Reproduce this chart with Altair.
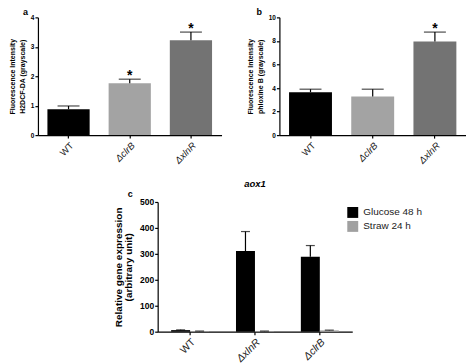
import altair as alt
import pandas as pd

FONT = "Liberation Sans"

# ---- panel a / b data ----
strains_ab = ["WT", "ΔclrB", "ΔxlnR"]
h2dcf_mean = [0.88, 1.76, 3.22]
h2dcf_err = [0.99, 1.90, 3.50]
h2dcf_sig = ["", "*", "*"]
phlox_mean = [3.65, 3.28, 7.95]
phlox_err = [3.90, 3.90, 8.75]
phlox_sig = ["", "", "*"]
bar_colors = ["#000000", "#a3a3a3", "#737373"]

# ---- panel c data ----
strains_c = ["WT", "ΔxlnR", "ΔclrB"]
conditions = ["Glucose 48 h", "Straw 24 h"]
aox1_glucose = [6, 311, 289]
aox1_glucose_err = [7, 386, 332]
aox1_straw = [2, 2, 5]
aox1_straw_err = [2.5, 2.5, 6]
cond_colors = ["#000000", "#a0a0a0"]

italic_cond = alt.condition("datum.value == 'WT'", alt.value("normal"), alt.value("italic"))


def x_axis(fs):
    return alt.Axis(title=None, labelAngle=-45, labelFont=FONT, labelFontSize=fs,
                    labelColor="#222222", labelFontWeight="normal", labelFontStyle=italic_cond,
                    tickSize=3, labelPadding=2, domainColor="#000000", tickColor="#000000",
                    domainWidth=1.2, tickWidth=1.2, grid=False)


def y_axis(title, values, lfs, tfs, lh, tpad):
    return alt.Axis(title=title, values=values, labelFont=FONT, labelFontSize=lfs,
                    labelFontWeight="bold", labelColor="#000000", titleFont=FONT,
                    titleFontSize=tfs, titleFontWeight="bold", titleColor="#000000",
                    titleLineHeight=lh, titlePadding=tpad, tickSize=3, labelPadding=1,
                    labelOverlap=False, domainColor="#000000", tickColor="#000000",
                    domainWidth=1.2, tickWidth=1.2, grid=False)


def panel_ab(means, errs, sigs, ymax, ystep, title, letter, letter_x, width, height):
    df = pd.DataFrame({"strain": strains_ab, "mean": means, "err": errs, "sig": sigs,
                       "fillc": bar_colors})
    xs = alt.Scale(domain=strains_ab, paddingInner=0.31, paddingOuter=0.155)
    ax_y = y_axis(title, list(range(0, ymax + 1, ystep)), 6.5, 7, 10, 5)
    ax_x = x_axis(9.5)
    x = alt.X("strain:N", sort=strains_ab, scale=xs, axis=ax_x)
    y = alt.Y("mean:Q", scale=alt.Scale(domain=[0, ymax], nice=False), axis=ax_y)
    base = alt.Chart(df)
    bars = base.mark_bar().encode(
        x=x, y=y, fill=alt.Fill("fillc:N", scale=None))
    rule = base.mark_rule(color="#000000", strokeWidth=1.2).encode(
        x=x, y=y, y2="err:Q")
    cap = base.mark_tick(color="#000000", thickness=1.2, size=22).encode(
        x=x, y=alt.Y("err:Q", axis=ax_y))
    star = base.mark_text(font=FONT, fontSize=14, fontWeight="bold", baseline="alphabetic",
                          dy=1, color="#000000").encode(
        x=x, y=alt.Y("err:Q", axis=ax_y), text="sig:N")
    lab = alt.Chart(pd.DataFrame({"t": [letter]})).mark_text(
        font=FONT, fontSize=9, fontWeight="bold", align="left", baseline="alphabetic",
        color="#000000").encode(x=alt.value(letter_x), y=alt.value(-2), text="t:N")
    return alt.layer(bars, rule, cap, star, lab).properties(width=width, height=height)


panel_a = panel_ab(h2dcf_mean, h2dcf_err, h2dcf_sig, 4, 1,
                   ["Fluorescence Intensity", "H2DCF-DA (grayscale)"], "a", -15, 184, 118)
panel_b = panel_ab(phlox_mean, phlox_err, phlox_sig, 10, 2,
                   ["Fluorescence Intensity", "phloxine B (grayscale)"], "b", -23, 187, 118)

# ---- panel c ----
rows = []
for i, s in enumerate(strains_c):
    rows.append({"strain": s, "cond": conditions[0], "mean": aox1_glucose[i], "err": aox1_glucose_err[i]})
    rows.append({"strain": s, "cond": conditions[1], "mean": aox1_straw[i], "err": aox1_straw_err[i]})
dfc = pd.DataFrame(rows)

ax_xc = x_axis(10.5)
ax_yc = y_axis(["Relative gene expression", "(arbitrary unit)"],
               [0, 100, 200, 300, 400, 500], 8.5, 10, 10.5, 6)
xc = alt.X("strain:N", sort=strains_c,
           scale=alt.Scale(domain=strains_c, paddingInner=0.415, paddingOuter=0.2075),
           axis=ax_xc)
xo = alt.XOffset("cond:N", sort=conditions, scale=alt.Scale(domain=conditions, paddingInner=0, paddingOuter=0))
yc = alt.Y("mean:Q", scale=alt.Scale(domain=[0, 500], nice=False), axis=ax_yc)
legend_c = alt.Legend(title=None, orient="none", legendX=310, legendY=5, padding=0,
                      symbolType="square", symbolSize=120, symbolStrokeWidth=0,
                      labelFont=FONT, labelFontSize=10, labelColor="#222222",
                      labelOffset=5, rowPadding=3)
basec = alt.Chart(dfc)
bars_c = basec.mark_bar().encode(
    x=xc, xOffset=xo, y=yc,
    color=alt.Color("cond:N", sort=conditions,
                    scale=alt.Scale(domain=conditions, range=cond_colors),
                    legend=legend_c))
rule_c = basec.mark_rule(color="#000000", strokeWidth=1.2).encode(
    x=xc, xOffset=xo, y=yc, y2="err:Q")
cap_c = basec.mark_tick(color="#000000", thickness=1.2, size=9).encode(
    x=xc, xOffset=xo, y=alt.Y("err:Q", axis=ax_yc))
lab_c = alt.Chart(pd.DataFrame({"t": ["c"]})).mark_text(
    font=FONT, fontSize=9, fontWeight="bold", align="left", baseline="alphabetic",
    color="#000000").encode(x=alt.value(-30), y=alt.value(-5), text="t:N")

panel_c = alt.layer(bars_c, rule_c, cap_c, lab_c).properties(
    width=195, height=130,
    title=alt.TitleParams("aox1", font=FONT, fontSize=9.5, fontWeight="bold", fontStyle="italic",
                          color="#000000", anchor="middle", frame="group", offset=1))

spacer = alt.Chart(pd.DataFrame({"v": [0]})).mark_point(opacity=0).encode(
    x=alt.value(0), y=alt.value(0)).properties(width=68, height=10)

row1 = alt.hconcat(panel_a, panel_b, spacing=24)
row2 = alt.hconcat(spacer, panel_c, spacing=7)
chart = alt.vconcat(row1, row2, spacing=14).properties(padding=0).resolve_scale(
    color="independent").resolve_legend(color="independent").configure_view(
    stroke=None).configure_axis(grid=False)

chart.save("out.html", embed_options={"renderer": "svg", "actions": False})
